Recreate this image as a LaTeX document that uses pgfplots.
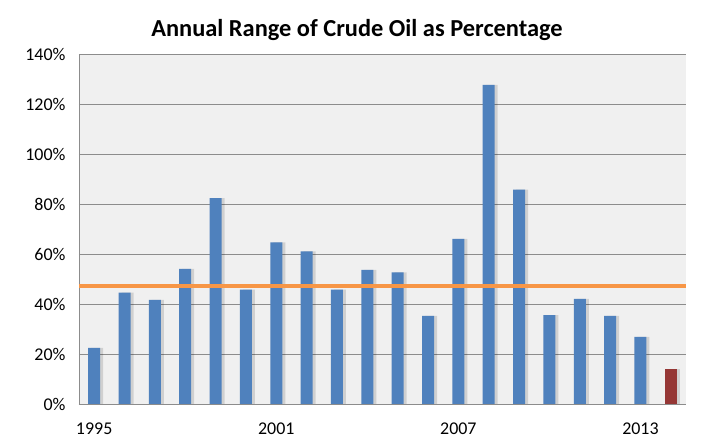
\documentclass[border=0pt]{standalone}
\usepackage{pgfplots}
\pgfplotsset{compat=1.18}
\usepackage{fontspec}
\setmainfont{Carlito}
\definecolor{barblue}{HTML}{4F81BD}
\definecolor{barred}{HTML}{953735}
\definecolor{avgline}{HTML}{F79646}
\definecolor{plotbg}{HTML}{F0F0F0}
\definecolor{gridgray}{HTML}{8C8C8C}

\pgfplotstableread{
year range
1995 22.4
1996 44.5
1997 41.6
1998 54.0
1999 82.3
2000 45.7
2001 64.6
2002 61.0
2003 45.7
2004 53.6
2005 52.6
2006 35.2
2007 66.0
2008 127.6
2009 85.7
2010 35.5
2011 42.0
2012 35.2
2013 26.8
}\rangedata

\pgfplotstableread{
year range
2014 14.0
}\ytddata

\begin{document}
\begin{tikzpicture}
\path[use as bounding box] (-79bp,-44bp) rectangle (635bp,404bp);
\begin{axis}[
  scale only axis,
  width=607bp, height=350bp,
  xmin=1994.5, xmax=2014.5,
  ymin=0, ymax=140,
  ybar, bar width=12bp, bar shift=0pt,
  axis background/.style={fill=plotbg},
  axis x line=bottom, axis y line=left,
  axis line style={-, draw=gridgray},
  ymajorgrids=true,
  grid style={gridgray, line width=0.6bp},
  major tick length=0pt,
  xtick={1995,2001,2007,2013},
  ytick={0,20,...,140},
  /pgf/number format/assume math mode=true,
  /pgf/number format/1000 sep={},
  yticklabel={\pgfmathprintnumber{\tick}\%},
  tick label style={font=\fontsize{18}{20}\selectfont},
  yticklabel style={xshift=-10bp},
  xticklabel style={yshift=-15bp},
]
\addplot[draw=none, fill=black, fill opacity=0.13, bar shift=3bp, forget plot]
  table[x=year, y=range] {\rangedata};
\addplot[draw=none, fill=black, fill opacity=0.13, bar shift=3bp, forget plot]
  table[x=year, y=range] {\ytddata};
\addplot[draw=none, fill=barblue] table[x=year, y=range] {\rangedata};
\addplot[draw=none, fill=barred] table[x=year, y=range] {\ytddata};
\addplot[sharp plot, draw=avgline, line width=4bp, mark=none]
  coordinates {(1994.5,47) (2014.5,47)};
\end{axis}
\node[font=\bfseries\fontsize{24.5}{28}\selectfont] at (278bp,374bp)
  {Annual Range of Crude Oil as Percentage};
\end{tikzpicture}
\end{document}
